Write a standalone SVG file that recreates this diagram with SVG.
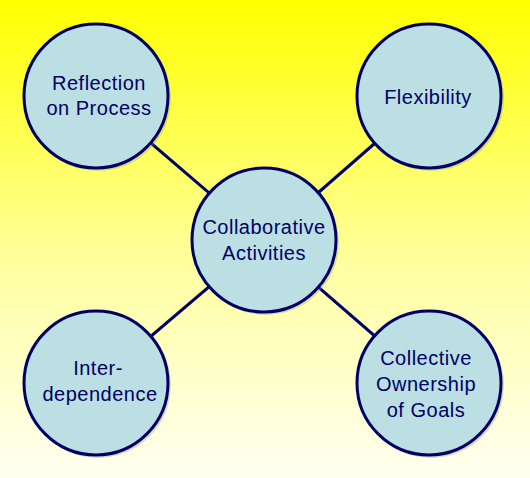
<svg xmlns="http://www.w3.org/2000/svg" width="530" height="478" viewBox="0 0 530 478">
<defs>
<linearGradient id="bg" x1="0" y1="0" x2="0" y2="1">
<stop offset="0" stop-color="#FFFF00"/>
<stop offset="0.55" stop-color="#FFFFA0"/>
<stop offset="1" stop-color="#FFFFF2"/>
</linearGradient>
</defs>
<style>
.node circle.c{fill:#BBDFE3;stroke:#000066;stroke-width:3}
.node circle.s{fill:#999;opacity:0.35}
.node text{font-family:"Liberation Sans",Arial,sans-serif;font-size:20px;letter-spacing:0.5px;fill:#000066;text-anchor:middle}
.edges line{stroke:#000066;stroke-width:3}
</style>
<rect width="530" height="478" fill="url(#bg)"/>
<g class="edges">
<line x1="96" y1="96" x2="264" y2="240"/>
<line x1="429" y1="96" x2="264" y2="240"/>
<line x1="96" y1="383" x2="264" y2="240"/>
<line x1="429" y1="383" x2="264" y2="240"/>
</g>
<g id="center" class="node">
<circle class="s" cx="266" cy="242" r="73"/>
<circle class="c" cx="264" cy="240" r="72"/>
<text x="264" y="234">Collaborative</text>
<text x="264" y="260">Activities</text>
</g>
<g id="reflection" class="node">
<circle class="s" cx="98" cy="98" r="73"/>
<circle class="c" cx="96" cy="96" r="72"/>
<text x="99" y="90">Reflection</text>
<text x="99" y="115">on Process</text>
</g>
<g id="flexibility" class="node">
<circle class="s" cx="431" cy="98" r="73"/>
<circle class="c" cx="429" cy="96" r="72"/>
<text x="428" y="104">Flexibility</text>
</g>
<g id="interdependence" class="node">
<circle class="s" cx="98" cy="385" r="73"/>
<circle class="c" cx="96" cy="383" r="72"/>
<text x="98" y="375">Inter-</text>
<text x="100" y="401">dependence</text>
</g>
<g id="ownership" class="node">
<circle class="s" cx="431" cy="385" r="73"/>
<circle class="c" cx="429" cy="383" r="72"/>
<text x="426" y="365">Collective</text>
<text x="426" y="391">Ownership</text>
<text x="426" y="417">of Goals</text>
</g>
</svg>
